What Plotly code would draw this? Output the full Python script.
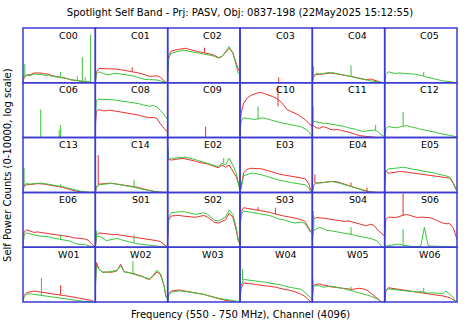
import plotly.graph_objects as go
from plotly.subplots import make_subplots

# Frequency sample points (MHz) shared by every panel
FREQ = [550, 553, 560, 570, 580, 590, 600, 610, 620, 630, 640, 650,
        660, 670, 680, 690, 700, 710, 720, 730, 740, 745, 750]

# Quiet baseline (count of 1 = floor of the log scale)
BASELINE = [1, 1, 1, 1, 1, 1, 1, 1, 1, 1, 1, 1, 1, 1, 1, 1, 1, 1, 1, 1, 1, 1, 1]

# Per-antenna self-power counts: red and green polarisations.
# Spikes: (polarisation, frequency MHz, count at foot, count at peak)
C00_RED = [1, 2.5, 3.6, 4.0, 5.2, 5.2, 5.2, 4.4, 4.4, 3.3, 3.0, 2.8, 2.5, 2.1, 1.7, 1.6, 1.4, 1.3, 1.2, 1.1, 1, 1, 1]
C00_GREEN = [1, 3.0, 3.6, 3.3, 4.4, 4.4, 4.0, 3.6, 3.6, 3.0, 2.8, 2.5, 2.3, 2.1, 1.7, 1.6, 1.4, 1.3, 1.3, 1.2, 1.1, 1, 1]
C00_SPIKES = [("green", 555, 3.2, 23), ("green", 654, 2.6, 6.3), ("green", 700, 1.4, 3.0),
              ("green", 714, 1.3, 75), ("green", 722, 1.2, 2.5), ("green", 737, 1.1, 3300)]

C01_RED = [1, 6.3, 11, 11, 11, 10, 10, 10, 9.1, 8.3, 7.6, 6.9, 6.3, 5.2, 4.4, 3.6, 3.0, 3.0, 3.3, 2.5, 1.3, 1.1, 1]
C01_GREEN = [1, 4.4, 6.3, 5.2, 4.0, 4.0, 4.8, 4.8, 4.4, 4.0, 3.6, 3.6, 3.0, 2.3, 1.9, 1.7, 1.7, 1.7, 1.6, 1.4, 1.2, 1.1, 1]
C01_SPIKES = [("red", 652, 6.9, 14)]

C02_RED = [6.3, 100, 209, 251, 275, 302, 331, 275, 229, 209, 174, 158, 145, 120, 100, 69, 83, 158, 331, 158, 25, 10, 6.3]
C02_GREEN = [4, 63, 145, 174, 209, 229, 229, 191, 174, 158, 145, 132, 120, 100, 83, 63, 83, 174, 437, 158, 16, 5.2, 4]
C02_SPIKES = [("red", 652, 158, 363)]

C03_RED = BASELINE
C03_GREEN = BASELINE
C03_SPIKES = [("red", 657, 1, 2.5)]

C04_RED = [1, 2.5, 4, 4, 4.4, 4.8, 5.2, 4.8, 4.4, 4, 3.3, 3, 2.8, 2.5, 2.1, 1.9, 1.7, 1.9, 1.6, 1.3, 1.1, 1, 1]
C04_GREEN = [1, 3.0, 4.8, 4.4, 4.8, 5.2, 5.8, 5.2, 4.8, 4.4, 3.6, 3.0, 2.8, 2.3, 2.1, 1.7, 1.6, 1.4, 1.3, 1.2, 1.1, 1.1, 1]
C04_SPIKES = [("green", 553, 3.0, 16), ("green", 657, 2.8, 19)]

C05_RED = BASELINE
C05_GREEN = [1, 4, 6.3, 5.2, 4.8, 5.2, 4.8, 4.8, 4.4, 4.4, 4, 3.6, 3, 2.5, 2.1, 1.9, 1.6, 1.4, 1.3, 1.2, 1.1, 1, 1]
C05_SPIKES = [("green", 658, 3.0, 6.3)]

C06_RED = BASELINE
C06_GREEN = BASELINE
C06_SPIKES = [("green", 599, 1, 110), ("green", 650, 1, 3.6), ("green", 654, 1, 8.3)]

C08_RED = [6.3, 83, 110, 91, 91, 100, 91, 83, 76, 69, 63, 58, 48, 44, 36, 30, 28, 30, 25, 10, 4.8, 3.3, 2.8]
C08_GREEN = [16, 525, 631, 631, 575, 575, 575, 525, 479, 479, 437, 398, 331, 302, 251, 229, 191, 229, 174, 100, 48, 33, 21]
C08_SPIKES = []

C09_RED = BASELINE
C09_GREEN = BASELINE
C09_SPIKES = [("red", 655, 1, 6.3)]

C10_RED = [1.6, 63, 331, 760, 1200, 1585, 1900, 1900, 1585, 1200, 1000, 760, 479, 251, 110, 83, 63, 48, 30, 21, 11, 8.3, 6.9]
C10_GREEN = [1.3, 16, 28, 25, 23, 21, 23, 28, 25, 21, 17, 14.5, 13, 11, 10, 9.1, 8.3, 6.9, 5.8, 4.4, 2.8, 1.6, 1.2]
C10_SPIKES = [("red", 655, 190, 6300), ("green", 600, 23, 190)]

C11_RED = [9.1, 7.6, 5.2, 4.8, 6.3, 5.2, 4.0, 3.6, 4.0, 3.3, 3.0, 2.5, 2.1, 1.6, 1.4, 1.3, 1.2, 1.1, 1, 1, 1, 1, 1]
C11_GREEN = [6.3, 16, 14.5, 12, 11, 11, 10, 9.1, 8.3, 7.6, 6.3, 5.2, 4.8, 4.0, 3.3, 2.8, 3.0, 3.3, 3.6, 2.8, 1.7, 1.3, 1.1]
C11_SPIKES = [("green", 552, 16, 190), ("green", 725, 3.6, 8.3)]

C12_RED = BASELINE
C12_GREEN = [1, 4.4, 6.3, 5.8, 5.2, 5.8, 6.3, 7.6, 6.3, 5.8, 4.8, 4.0, 3.6, 3.3, 2.8, 2.5, 2.1, 1.9, 1.6, 1.4, 1.3, 1.2, 1.1]
C12_SPIKES = [("green", 601, 6.3, 76)]

C13_RED = [1, 3.0, 3.6, 3.6, 4.0, 4.4, 4.4, 4.0, 3.6, 3.3, 3.0, 2.5, 2.3, 1.9, 1.6, 1.4, 1.2, 1.1, 1, 1, 1, 1, 1]
C13_GREEN = [1, 3.6, 4.4, 4.0, 4.4, 4.8, 4.8, 4.4, 4.0, 3.6, 3.3, 3.0, 2.8, 2.3, 1.9, 1.6, 1.3, 1.2, 1.1, 1, 1, 1, 1]
C13_SPIKES = [("green", 553, 3.6, 58), ("green", 654, 2.9, 4.0)]

C14_RED = [1, 2.5, 4.0, 4.4, 4.4, 4.8, 4.4, 4.0, 4.0, 3.6, 3.3, 2.8, 2.5, 2.3, 1.9, 1.6, 1.4, 1.2, 1.1, 1, 1, 1, 1]
C14_GREEN = [1, 2.5, 3.6, 4.0, 4.4, 4.4, 4.4, 4.0, 3.6, 3.3, 3.0, 2.5, 2.3, 1.9, 1.7, 1.4, 1.3, 1.2, 1.1, 1, 1, 1, 1]
C14_SPIKES = [("red", 558, 4.0, 525), ("green", 657, 2.5, 8.3)]

E02_RED = [1000, 251, 229, 251, 275, 302, 275, 251, 209, 174, 145, 132, 120, 100, 76, 63, 100, 69, 100, 40, 13, 4.8, 2.1]
E02_GREEN = [2500, 251, 302, 331, 331, 363, 363, 331, 275, 229, 191, 158, 132, 120, 100, 76, 132, 100, 302, 100, 25, 6.3, 1.2]
E02_SPIKES = [("green", 705, 132, 330)]

E03_RED = [33, 2.1, 28, 48, 58, 58, 58, 52, 44, 36, 30, 25, 21, 19, 17, 16, 14.5, 13, 12, 10, 4.4, 1.7, 1]
E03_GREEN = [25, 1.7, 16, 21, 25, 25, 23, 19, 16, 13, 11, 9.1, 7.6, 6.9, 5.8, 5.2, 4.8, 4.4, 4.0, 3.6, 2.1, 1.2, 1]
E03_SPIKES = []

E04_RED = [1, 3.0, 4.8, 4.8, 5.2, 5.8, 6.3, 6.3, 5.8, 4.8, 4.0, 3.0, 2.5, 2.1, 1.7, 1.4, 1.2, 1.1, 1, 1, 1, 1, 1]
E04_GREEN = [1, 3.3, 4.8, 4.8, 5.2, 5.8, 6.3, 5.8, 5.2, 4.4, 3.6, 3.0, 2.5, 2.1, 1.7, 1.4, 1.2, 1.1, 1, 1, 1, 1, 1]
E04_SPIKES = [("red", 557, 4.8, 21), ("red", 657, 3.0, 5.2), ("red", 701, 1.2, 2.3)]

E05_RED = [6.3, 40, 25, 28, 30, 33, 33, 30, 28, 25, 23, 21, 19, 17, 16, 16, 14.5, 13, 12, 11, 4.4, 2.1, 1.3]
E05_GREEN = [2.5, 33, 52, 58, 58, 63, 69, 63, 52, 48, 44, 40, 33, 30, 28, 25, 21, 19, 16, 13, 5.2, 2.5, 1.3]
E05_SPIKES = []

E06_RED = [1, 13, 19, 16, 12, 13, 12, 11, 10, 8.3, 8.3, 7.6, 6.9, 6.3, 5.8, 4.8, 4.8, 4.4, 4.0, 3.3, 1.7, 1.2, 1]
E06_GREEN = [1, 7.6, 11, 9.1, 7.6, 6.9, 6.3, 6.3, 5.8, 4.8, 4.4, 4.0, 3.6, 3.3, 2.8, 2.1, 1.7, 1.6, 1.6, 1.3, 1.1, 1, 1]
E06_SPIKES = [("green", 654, 4.0, 8.3)]

S01_RED = [1, 7.6, 11, 10, 9.1, 9.1, 8.3, 8.3, 7.6, 6.9, 6.3, 5.8, 5.2, 4.8, 4.4, 4.0, 3.6, 3.3, 3.0, 2.5, 1.6, 1.2, 1]
S01_GREEN = [1, 5.2, 6.3, 4.8, 3.0, 3.3, 4.0, 4.4, 3.6, 3.0, 2.5, 2.1, 1.9, 1.7, 1.6, 1.4, 1.3, 1.2, 1.2, 1.1, 1, 1, 1]
S01_SPIKES = [("green", 553, 5.2, 16), ("green", 657, 2.1, 8.3)]

S02_RED = [4, 100, 191, 209, 209, 191, 174, 158, 158, 158, 174, 209, 158, 100, 63, 58, 76, 100, 302, 158, 16, 3, 1.6]
S02_GREEN = [6.3, 158, 331, 363, 398, 398, 363, 302, 275, 251, 275, 331, 251, 158, 91, 83, 110, 158, 525, 251, 25, 4, 1.6]
S02_SPIKES = []

S03_RED = [16, 398, 760, 690, 575, 525, 479, 437, 398, 363, 302, 251, 209, 191, 174, 158, 132, 120, 100, 76, 25, 16, 10]
S03_GREEN = [10, 251, 437, 398, 331, 302, 275, 251, 229, 209, 174, 132, 110, 100, 83, 69, 58, 63, 69, 52, 23, 13, 12]
S03_SPIKES = [("red", 600, 479, 830), ("red", 648, 251, 760)]

S04_RED = [16, 100, 145, 145, 132, 120, 110, 100, 91, 83, 76, 83, 69, 58, 48, 40, 36, 48, 40, 19, 10, 7.6, 6.3]
S04_GREEN = [2.5, 16, 21, 28, 23, 17, 16, 14.5, 13, 11, 10, 9.1, 8.3, 6.9, 6.3, 5.2, 4.8, 4.4, 3.6, 2.8, 1.2, 1, 1]
S04_SPIKES = [("red", 552, 100, 437), ("green", 554, 16, 190), ("green", 657, 9.1, 30)]

S06_RED = [6.3, 100, 158, 158, 145, 174, 209, 251, 209, 174, 145, 158, 158, 145, 132, 100, 69, 58, 52, 52, 25, 10, 3.6]
S06_GREEN = [1, 1.2, 1.3, 1.4, 1.7, 1.7, 1.4, 1.3, 1.1, 1.1, 1.1, 1.3, 28, 1.3, 1.2, 1.2, 1.1, 1.1, 1.1, 1.1, 1, 1, 1]
S06_SPIKES = [("red", 601, 209, 8300), ("green", 601, 1.4, 21)]

W01_RED = [1, 3.0, 4.8, 5.2, 6.3, 5.8, 5.2, 4.8, 4.4, 4.0, 3.6, 3.3, 3.0, 2.8, 2.5, 2.3, 2.1, 1.9, 1.7, 1.6, 1.3, 1.1, 1]
W01_GREEN = [1, 2.5, 3.6, 4.0, 3.6, 3.3, 3.0, 2.8, 2.5, 2.5, 2.3, 2.1, 1.9, 1.7, 1.6, 1.4, 1.3, 1.2, 1.1, 1.1, 1, 1, 1]
W01_SPIKES = [("green", 601, 3.0, 58), ("red", 654, 3.3, 17)]

W02_RED = [16, 760, 251, 145, 158, 145, 158, 191, 575, 158, 145, 132, 110, 91, 76, 52, 44, 76, 158, 100, 16, 2.5, 1.9]
W02_GREEN = [10, 398, 251, 158, 145, 158, 174, 209, 437, 158, 145, 120, 100, 83, 69, 52, 48, 91, 209, 120, 16, 2.5, 1.9]
W02_SPIKES = [("green", 654, 120, 1000)]

W03_RED = [1, 4.0, 6.3, 6.9, 7.6, 6.9, 6.3, 5.8, 5.2, 4.8, 4.4, 3.6, 3.0, 2.5, 2.1, 1.9, 1.6, 1.3, 1.2, 1.1, 1, 1, 1]
W03_GREEN = [1, 3.3, 5.2, 5.8, 6.3, 6.3, 5.8, 5.2, 4.8, 4.4, 4.0, 3.6, 3.0, 2.5, 2.1, 1.9, 1.7, 1.6, 1.4, 1.3, 1.1, 1, 1]
W03_SPIKES = []

W04_RED = [1, 10, 25, 23, 21, 21, 19, 17, 16, 14.5, 13, 12, 10, 9.1, 8.3, 6.9, 5.8, 4.8, 3.6, 2.5, 1.4, 1.1, 1]
W04_GREEN = [1.6, 16, 44, 40, 36, 33, 33, 30, 28, 25, 23, 21, 17, 16, 13, 12, 10, 9.1, 8.3, 4.8, 3.0, 2.1, 1.4]
W04_SPIKES = [("green", 557, 40, 251)]

W05_RED = [2.5, 16, 19, 21, 17, 16, 13, 12, 11, 10, 9.1, 8.3, 8.3, 9.1, 10, 9.1, 7.6, 4.8, 3.0, 1.6, 1.1, 1, 1]
W05_GREEN = [1.6, 16, 14.5, 16, 12, 13, 14.5, 13, 12, 11, 9.1, 7.6, 6.3, 5.8, 4.8, 4.0, 3.3, 2.8, 2.1, 1.6, 1, 1, 1]
W05_SPIKES = [("green", 552, 16, 44), ("green", 657, 7.6, 13)]

W06_RED = [1, 6.3, 11, 10, 9.1, 7.6, 7.6, 6.9, 6.3, 5.8, 5.2, 4.8, 4.4, 4.0, 3.6, 3.3, 3.0, 2.8, 2.5, 2.1, 1.4, 1.1, 1]
W06_GREEN = [1, 6.3, 9.1, 8.3, 7.6, 6.9, 6.3, 6.3, 6.3, 5.8, 5.2, 5.8, 5.2, 4.4, 4.8, 4.4, 4.0, 4.0, 6.3, 3.6, 2.1, 1.2, 1]
W06_SPIKES = [("green", 658, 5.5, 11)]

PANELS = [
    ("C00", C00_RED, C00_GREEN, C00_SPIKES), ("C01", C01_RED, C01_GREEN, C01_SPIKES),
    ("C02", C02_RED, C02_GREEN, C02_SPIKES), ("C03", C03_RED, C03_GREEN, C03_SPIKES),
    ("C04", C04_RED, C04_GREEN, C04_SPIKES), ("C05", C05_RED, C05_GREEN, C05_SPIKES),
    ("C06", C06_RED, C06_GREEN, C06_SPIKES), ("C08", C08_RED, C08_GREEN, C08_SPIKES),
    ("C09", C09_RED, C09_GREEN, C09_SPIKES), ("C10", C10_RED, C10_GREEN, C10_SPIKES),
    ("C11", C11_RED, C11_GREEN, C11_SPIKES), ("C12", C12_RED, C12_GREEN, C12_SPIKES),
    ("C13", C13_RED, C13_GREEN, C13_SPIKES), ("C14", C14_RED, C14_GREEN, C14_SPIKES),
    ("E02", E02_RED, E02_GREEN, E02_SPIKES), ("E03", E03_RED, E03_GREEN, E03_SPIKES),
    ("E04", E04_RED, E04_GREEN, E04_SPIKES), ("E05", E05_RED, E05_GREEN, E05_SPIKES),
    ("E06", E06_RED, E06_GREEN, E06_SPIKES), ("S01", S01_RED, S01_GREEN, S01_SPIKES),
    ("S02", S02_RED, S02_GREEN, S02_SPIKES), ("S03", S03_RED, S03_GREEN, S03_SPIKES),
    ("S04", S04_RED, S04_GREEN, S04_SPIKES), ("S06", S06_RED, S06_GREEN, S06_SPIKES),
    ("W01", W01_RED, W01_GREEN, W01_SPIKES), ("W02", W02_RED, W02_GREEN, W02_SPIKES),
    ("W03", W03_RED, W03_GREEN, W03_SPIKES), ("W04", W04_RED, W04_GREEN, W04_SPIKES),
    ("W05", W05_RED, W05_GREEN, W05_SPIKES), ("W06", W06_RED, W06_GREEN, W06_SPIKES),
]

COLOURS = {"red": "#e8302c", "green": "#3cc43c"}
BORDER = "#3b3bd4"
FONT = "DejaVu Sans"
NCOLS = 6

fig = make_subplots(rows=5, cols=NCOLS, horizontal_spacing=0, vertical_spacing=0)

for i, (name, red, green, spikes) in enumerate(PANELS):
    row, col = i // NCOLS + 1, i % NCOLS + 1
    for pol, series in (("red", red), ("green", green)):
        fig.add_trace(go.Scatter(x=FREQ, y=series, mode="lines",
                                 line=dict(color=COLOURS[pol], width=1),
                                 hoverinfo="skip", showlegend=False),
                      row=row, col=col)
    for pol in ("red", "green"):
        xs, ys = [], []
        for s_pol, f, foot, peak in spikes:
            if s_pol == pol:
                xs += [f, f, None]
                ys += [foot, peak, None]
        if xs:
            fig.add_trace(go.Scatter(x=xs, y=ys, mode="lines",
                                     line=dict(color=COLOURS[pol], width=1),
                                     hoverinfo="skip", showlegend=False),
                          row=row, col=col)
    suffix = "" if i == 0 else str(i + 1)
    fig.add_shape(type="rect", xref=f"x{suffix} domain", yref=f"y{suffix} domain",
                  x0=0, x1=1, y0=0, y1=1, layer="above",
                  line=dict(color=BORDER, width=1.5))
    fig.add_annotation(text=name, xref=f"x{suffix} domain", yref=f"y{suffix} domain",
                       x=0.625, y=0.87, xanchor="center", yanchor="middle",
                       showarrow=False, font=dict(family=FONT, size=9.5, color="black"))

fig.update_xaxes(range=[550, 750], showticklabels=False, showgrid=False,
                 zeroline=False, ticks="", showline=False)
fig.update_yaxes(type="log", range=[0, 4], showticklabels=False, showgrid=False,
                 zeroline=False, ticks="", showline=False)

fig.add_annotation(text="Frequency (550 - 750 MHz), Channel (4096)",
                   xref="paper", yref="paper", x=0.5, y=-0.047,
                   xanchor="center", yanchor="middle", showarrow=False,
                   font=dict(family=FONT, size=10, color="black"))
fig.add_annotation(text="Self Power Counts (0-10000, log scale)",
                   xref="paper", yref="paper", x=-0.037, y=0.5, textangle=-90,
                   xanchor="center", yanchor="middle", showarrow=False,
                   font=dict(family=FONT, size=10, color="black"))

fig.update_layout(
    width=474, height=324,
    margin=dict(l=23, r=17, t=28, b=22),
    paper_bgcolor="white", plot_bgcolor="white",
    title=dict(text="Spotlight Self Band - Prj: PASV, Obj: 0837-198 (22May2025 15:12:55)",
               x=0.5, xref="paper", xanchor="center", y=0.96, yref="container",
               yanchor="middle", font=dict(family=FONT, size=10, color="black")),
)

fig.write_html("out.html")
